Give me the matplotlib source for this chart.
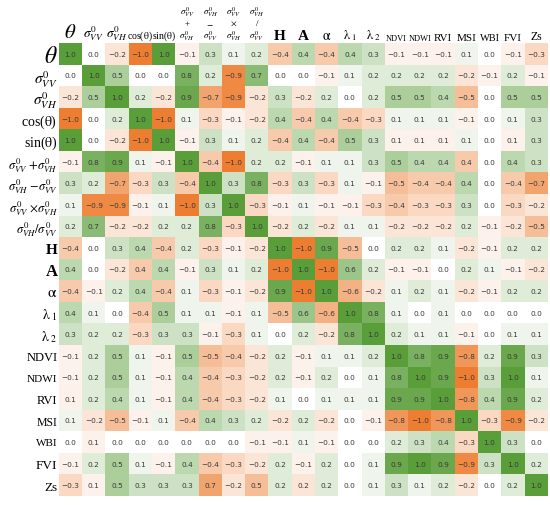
import matplotlib
matplotlib.use('Agg')
import matplotlib.pyplot as plt
import numpy as np
from matplotlib.colors import LinearSegmentedColormap

plt.rcParams['mathtext.fontset'] = 'stix'
plt.rcParams['font.family'] = ['Liberation Serif', 'DejaVu Serif']

# variable names (rows and columns)
col_labels = [r'$\theta$', r'$\sigma^0_{VV}$', r'$\sigma^0_{VH}$', r'cos($\mathrm{\theta}$)', r'sin($\mathrm{\theta}$)',
              '$\\sigma^0_{VV}$\n+\n$\\sigma^0_{VH}$', '$\\sigma^0_{VH}$\n$-$\n$\\sigma^0_{VV}$',
              '$\\sigma^0_{VV}$\n$\\times$\n$\\sigma^0_{VH}$', '$\\sigma^0_{VH}$\n/\n$\\sigma^0_{VV}$',
              'H', 'A', r'$\mathrm{\alpha}$', r'$\mathrm{\lambda}_{\ 1}$', r'$\mathrm{\lambda}_{\ 2}$',
              'NDVI', 'NDWI', 'RVI', 'MSI', 'WBI', 'FVI', 'Zs']
row_labels = [r'$\theta$', r'$\sigma^0_{VV}$', r'$\sigma^0_{VH}$', r'cos($\mathrm{\theta}$)', r'sin($\mathrm{\theta}$)',
              r'$\sigma^0_{VV}\ {+}\sigma^0_{VH}$', r'$\sigma^0_{VH}\ {-}\sigma^0_{VV}$',
              r'$\sigma^0_{VV}\ {\times}\sigma^0_{VH}$', r'$\sigma^0_{VH}/\sigma^0_{VV}$',
              'H', 'A', r'$\mathrm{\alpha}$', r'$\mathrm{\lambda}_{\ 1}$', r'$\mathrm{\lambda}_{\ 2}$',
              'NDVI', 'NDWI', 'RVI', 'MSI', 'WBI', 'FVI', 'Zs']

# correlation values as printed in each cell
corr = np.array([
    [1.0, 0.0, -0.2, -1.0, 1.0, -0.1, 0.3, 0.1, 0.2, -0.4, 0.4, -0.4, 0.4, 0.3, -0.1, -0.1, -0.1, 0.1, 0.0, -0.1, -0.3],
    [0.0, 1.0, 0.5, 0.0, 0.0, 0.8, 0.2, -0.9, 0.7, 0.0, 0.0, -0.1, 0.1, 0.2, 0.2, 0.2, 0.2, -0.2, -0.1, 0.2, -0.1],
    [-0.2, 0.5, 1.0, 0.2, -0.2, 0.9, -0.7, -0.9, -0.2, 0.3, -0.2, 0.2, 0.0, 0.2, 0.5, 0.5, 0.4, -0.5, 0.0, 0.5, 0.5],
    [-1.0, 0.0, 0.2, 1.0, -1.0, 0.1, -0.3, -0.1, -0.2, 0.4, -0.4, 0.4, -0.4, -0.3, 0.1, 0.1, 0.1, -0.1, 0.0, 0.1, 0.3],
    [1.0, 0.0, -0.2, -1.0, 1.0, -0.1, 0.3, 0.1, 0.2, -0.4, 0.4, -0.4, 0.5, 0.3, 0.1, 0.1, 0.1, 0.1, 0.0, 0.1, 0.3],
    [-0.1, 0.8, 0.9, 0.1, -0.1, 1.0, -0.4, -1.0, 0.2, 0.2, -0.1, 0.1, 0.1, 0.3, 0.5, 0.4, 0.4, 0.4, 0.0, 0.4, 0.3],
    [0.3, 0.2, -0.7, -0.3, 0.3, -0.4, 1.0, 0.3, 0.8, -0.3, 0.3, -0.3, 0.1, -0.1, -0.5, -0.4, -0.4, 0.4, 0.0, -0.4, -0.7],
    [0.1, -0.9, -0.9, -0.1, 0.1, -1.0, 0.3, 1.0, -0.3, -0.1, 0.1, -0.1, -0.1, -0.3, -0.4, -0.3, -0.3, 0.3, 0.0, -0.3, -0.2],
    [0.2, 0.7, -0.2, -0.2, 0.2, 0.2, 0.8, -0.3, 1.0, -0.2, 0.2, -0.2, 0.1, 0.1, -0.2, -0.2, -0.2, 0.2, -0.1, -0.2, -0.5],
    [-0.4, 0.0, 0.3, 0.4, -0.4, 0.2, -0.3, -0.1, -0.2, 1.0, -1.0, 0.9, -0.5, 0.0, 0.2, 0.2, 0.1, -0.2, -0.1, 0.2, 0.2],
    [0.4, 0.0, -0.2, 0.4, 0.4, -0.1, 0.3, 0.1, 0.2, -1.0, 1.0, -1.0, 0.6, 0.2, -0.1, -0.1, 0.0, 0.2, 0.1, -0.1, -0.2],
    [-0.4, -0.1, 0.2, 0.4, -0.4, 0.1, -0.3, -0.1, -0.2, 0.9, -1.0, 1.0, -0.6, -0.2, 0.1, 0.2, 0.1, -0.2, -0.1, 0.2, 0.2],
    [0.4, 0.1, 0.0, -0.4, 0.5, 0.1, 0.1, -0.1, 0.1, -0.5, 0.6, -0.6, 1.0, 0.8, 0.1, 0.0, 0.1, 0.0, 0.0, 0.0, 0.0],
    [0.3, 0.2, 0.2, -0.3, 0.3, 0.3, -0.1, -0.3, 0.1, 0.0, 0.2, -0.2, 0.8, 1.0, 0.2, 0.1, 0.1, -0.1, 0.0, 0.1, 0.1],
    [-0.1, 0.2, 0.5, 0.1, -0.1, 0.5, -0.5, -0.4, -0.2, 0.2, -0.1, 0.1, 0.1, 0.2, 1.0, 0.8, 0.9, -0.8, 0.2, 0.9, 0.3],
    [-0.1, 0.2, 0.5, 0.1, -0.1, 0.4, -0.4, -0.3, -0.2, 0.2, -0.1, 0.2, 0.0, 0.1, 0.8, 1.0, 0.9, -1.0, 0.3, 1.0, 0.1],
    [0.1, 0.2, 0.4, 0.1, -0.1, 0.4, -0.4, -0.3, -0.2, 0.1, 0.0, 0.1, 0.1, 0.1, 0.9, 0.9, 1.0, -0.8, 0.4, 0.9, 0.2],
    [0.1, -0.2, -0.5, -0.1, 0.1, -0.4, 0.4, 0.3, 0.2, -0.2, 0.2, -0.2, 0.0, -0.1, -0.8, -1.0, -0.8, 1.0, -0.3, -0.9, -0.2],
    [0.0, 0.1, 0.0, 0.0, 0.0, 0.0, 0.0, 0.0, -0.1, -0.1, 0.1, -0.1, 0.0, 0.0, 0.2, 0.3, 0.4, -0.3, 1.0, 0.3, 0.0],
    [-0.1, 0.2, 0.5, 0.1, -0.1, 0.4, -0.4, -0.3, -0.2, 0.2, -0.1, 0.2, 0.0, 0.1, 0.9, 1.0, 0.9, -0.9, 0.3, 1.0, 0.2],
    [-0.3, 0.1, 0.5, 0.3, 0.3, 0.3, 0.7, -0.2, 0.5, 0.2, 0.2, 0.2, 0.0, 0.1, 0.3, 0.1, 0.2, -0.2, 0.0, 0.2, 1.0],
])

# some printed labels dropped their minus sign; shading follows the signed partner cell
flip = (np.sign(corr) != np.sign(corr.T)) & (corr != 0) & (corr.T != 0)
shade = np.where(flip, -np.abs(corr), corr)

cmap = LinearSegmentedColormap.from_list('og', ['#ed7d31', '#ffffff', '#5a9e3a'])

fig = plt.figure(figsize=(5.5, 5.06), dpi=100)
ax = fig.add_axes([0.107, 0.018, 0.889, 0.895])
n = len(col_labels)
ax.pcolormesh(np.arange(n + 1) - 0.5, np.arange(n + 1) - 0.5, shade, cmap=cmap, vmin=-1, vmax=1)
ax.set_xlim(-0.5, n - 0.5)
ax.set_ylim(n - 0.5, -0.5)

for i in range(n):
    for j in range(n):
        ax.text(j, i, f'{corr[i, j]:.1f}'.replace('-', '\u2212'), ha='center', va='center',
                fontsize=5.3, color='#3a3a3a', family='DejaVu Sans')

col_sizes = [15, 9.5, 9.5, 7, 7, 6.5, 6.5, 6.5, 6.5, 11, 11, 10, 9, 9, 6, 6, 8, 8, 7.5, 8, 8.5]
row_sizes = [17, 11, 11, 10, 10, 9, 9, 9, 9, 11, 12, 11, 10, 10, 9, 8, 9, 8.5, 8, 9.5, 9.5]
bold_names = {'H', 'A'}

ax.xaxis.tick_top()
ax.set_xticks(range(n))
ax.set_xticklabels(col_labels, linespacing=1.1)
for lab, s, name in zip(ax.get_xticklabels(), col_sizes, col_labels):
    lab.set_fontsize(s)
    if name in bold_names:
        lab.set_fontweight('bold')
ax.set_yticks(range(n))
ax.set_yticklabels(row_labels)
for lab, s, name in zip(ax.get_yticklabels(), row_sizes, row_labels):
    lab.set_fontsize(s)
    if name in bold_names:
        lab.set_fontweight('bold')

ax.tick_params(length=0, pad=1)
for sp in ax.spines.values():
    sp.set_visible(False)

fig.savefig('out.png', dpi=100)
